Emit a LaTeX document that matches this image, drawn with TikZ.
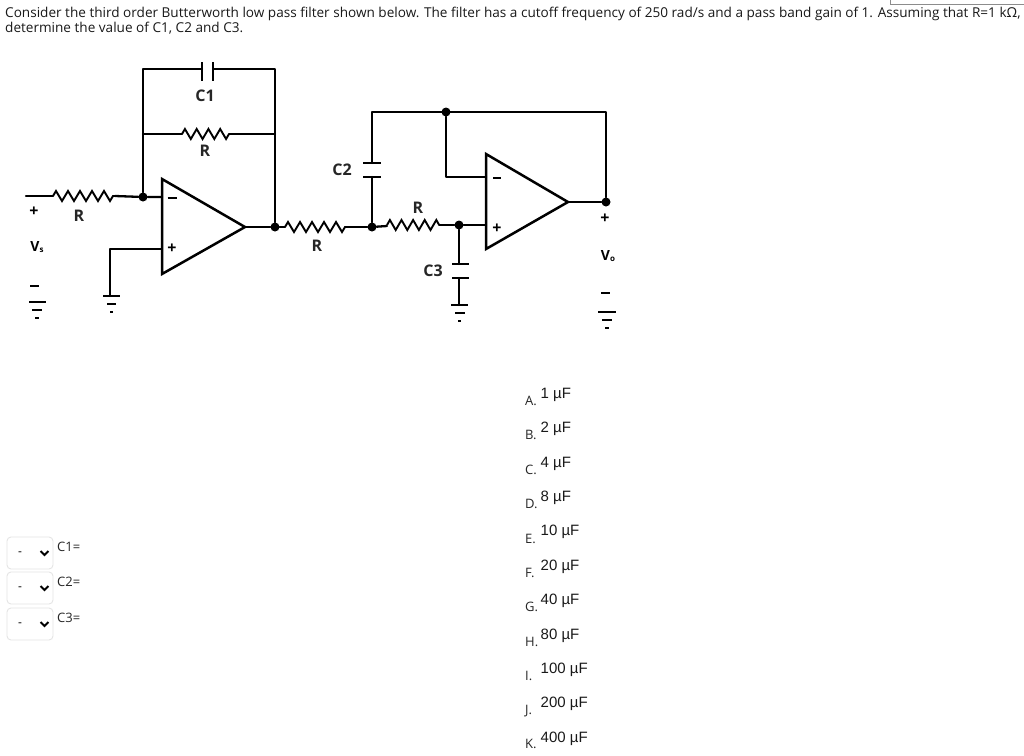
\documentclass[tikz,border=0pt]{standalone}
\usepackage{fontspec}
\setmainfont{Open Sans}
\newfontfamily\arialf{Liberation Sans}
\usetikzlibrary{decorations.pathmorphing}
\newcommand{\fs}[1]{\fontsize{#1}{#1}\selectfont}
\tikzset{
 wire/.style={line width=2.3pt,black,line cap=round,line join=round},
 opamp/.style={line width=2.5pt,black,line join=miter},
 res/.style={line width=1.9pt,black,decorate,decoration={zigzag,segment length=12pt,amplitude=5pt}},
 plate/.style={line width=2.3pt,black},
 dot/.style={circle,fill=black,inner sep=0pt,minimum size=9pt},
 lbl/.style={inner sep=0pt,font=\fs{16}\bfseries,text=black!85},
 sgn/.style={inner sep=0pt,font=\fs{16}\bfseries},
 stem/.style={inner sep=0pt,anchor=base west,font=\fs{13.58},text=black!90},
 opt/.style={inner sep=0pt,anchor=base west,font=\fs{13},text=black!85},
 val/.style={inner sep=0pt,anchor=base west,font=\arialf\fs{15},text=black!90},
 dd/.style={draw=black!10,line width=0.9pt,rounded corners=4pt,fill=white},
 chev/.style={line width=1.8pt,black,line join=miter},
 eq/.style={inner sep=0pt,anchor=base west,font=\fs{13},text=black!85},
}
\begin{document}
\begin{tikzpicture}[x=1pt,y=-1pt]
\useasboundingbox (0,0) rectangle (1024,755);
\fill[white] (0,0) rectangle (1024,755);
% question
\node[stem] (q1) at (5,17) {Consider the third order Butterworth low pass filter shown below. The filter has a cutoff frequency of 250 rad/s and a pass band gain of 1. Assuming that R=1 k\symbol{"03A9},};
\node[stem] (q2) at (5,32) {determine the value of C1, C2 and C3.};
\draw[black!45,line width=0.7pt] (890,0) -- (890,4) -- (1024,4);
% coordinates
\coordinate (in) at (26,196);
\coordinate (r1a) at (53,196); \coordinate (r1b) at (115,196);
\node[dot] (n1) at (143,197) {};
\coordinate (tl) at (143,69); \coordinate (tr) at (275,69);
\coordinate (c1a) at (202,69); \coordinate (c1b) at (213,69);
\coordinate (ml) at (143,134); \coordinate (mr) at (275,134);
\coordinate (rfa) at (182,134); \coordinate (rfb) at (229,134);
\coordinate (a1t) at (162,179); \coordinate (a1b) at (162,274); \coordinate (a1o) at (245,227);
\coordinate (a1m) at (162,197); \coordinate (a1p) at (162,249);
\node[dot] (n2) at (275,227) {};
\coordinate (gl) at (110,249); \coordinate (gl1) at (110,296);
\coordinate (r2a) at (285,227); \coordinate (r2b) at (347,227);
\node[dot] (n3) at (372,227) {};
\coordinate (c2a) at (372,177); \coordinate (c2b) at (372,163);
\coordinate (t2) at (372,112); \coordinate (t3) at (606,112);
\node[dot] (n4) at (446,112) {};
\coordinate (fb) at (446,177); \coordinate (a2m) at (486,177);
\coordinate (a2t) at (486,154); \coordinate (a2b) at (486,249); \coordinate (a2o) at (568,202);
\coordinate (a2p) at (486,225);
\node[dot] (n6) at (606,202) {};
\coordinate (r3a) at (387,225); \coordinate (r3b) at (445,225); \coordinate (n3r) at (372,226);
\node[dot] (n5) at (459,225) {};
\coordinate (c3a) at (459,264); \coordinate (c3b) at (459,278); \coordinate (g3) at (459,305);
% wires
\draw[wire] (in) -- (r1a); \draw[res] (r1a) -- (r1b);
\draw[wire] (r1b) -- (n1) -- (a1m);
\draw[wire] (n1) -- (tl) -- (c1a);
\draw[wire] (c1b) -- (tr) -- (n2);
\draw[wire] (ml) -- (rfa); \draw[res,decoration={zigzag,segment length=11.75pt,amplitude=5pt}] (rfa) -- (rfb); \draw[wire] (rfb) -- (mr);
\draw[plate] (202,62) -- (202,81); \draw[plate] (213,62) -- (213,81);
\draw[opamp] (a1t) -- (a1b) -- (a1o) -- cycle;
\draw[wire] (a1o) -- (n2) -- (r2a); \draw[res] (r2a) -- (r2b);
\draw[wire] (r2b) -- (n3);
\draw[wire] (a1p) -- (gl) -- (gl1);
\draw[wire] (n3) -- (c2a); \draw[wire] (c2b) -- (t2) -- (t3) -- (n6);
\draw[plate] (363,163) -- (381,163); \draw[plate] (363,177) -- (381,177);
\draw[wire] (n4) -- (fb) -- (a2m);
\draw[opamp] (a2t) -- (a2b) -- (a2o) -- cycle;
\draw[wire] (a2o) -- (n6);
\draw[wire] (n3) -- (r3a |- n3r) ; \draw[res,decoration={zigzag,segment length=11.6pt,amplitude=5pt}] (r3a) -- (r3b); \draw[wire] (r3b) -- (n5) -- (a2p);
\draw[wire] (n5) -- (c3a); \draw[wire] (c3b) -- (g3);
\draw[plate] (452,264) -- (469,264); \draw[plate] (452,278) -- (469,278);
% grounds
\draw[plate] (103,296) -- (120,296); \draw[plate] (107,304) -- (116,304); \draw[plate] (110,312) -- (113,312);
\draw[plate] (29,302) -- (46,302); \draw[plate] (32,310) -- (42,310); \draw[plate] (35,318) -- (39,318);
\draw[plate] (451,305) -- (468,305); \draw[plate] (455,313) -- (465,313); \draw[plate] (458,321) -- (461,321);
\draw[plate] (598,312) -- (616,312); \draw[plate] (602,320) -- (612,320); \draw[plate] (605,328) -- (609,328);
% circuit labels
\node[lbl] (lc1) at (205,96) {C1};
\node[lbl] (lr1) at (205,151) {R};
\node[lbl] (lr2) at (79,216) {R};
\node[lbl] (lc2) at (342,170) {C2};
\node[lbl] (lr3) at (418,208) {R};
\node[lbl] (lr4) at (317,246) {R};
\node[lbl] (lc3) at (433,271) {C3};
\node[sgn] (sp) at (34,212) {+};
\node[sgn,font=\fs{14}\bfseries] (svs) at (37,247) {V\raisebox{-1pt}{\fs{8}s}};
\draw[plate,line width=1.4pt] (30,286) -- (39,286);
\node[sgn] (s1m) at (172,198) {\rule{9pt}{1.8pt}};
\node[sgn] (s1p) at (172,249) {+};
\node[sgn] (s2m) at (497,178) {\rule{8pt}{1.8pt}};
\node[sgn] (s2p) at (497,229) {+};
\node[sgn] (op) at (605,219) {+};
\node[sgn,font=\fs{14}\bfseries] (vo) at (608,256) {V\raisebox{-1pt}{\fs{8}o}};
\draw[plate,line width=1.4pt] (601,293) -- (610,293);
% options
\foreach \n/\l/\yl/\v/\yv in {a/A./405/1/398,b/B./439/2/432,c/C./474/4/467,d/D./508/8/501,e/E./543/10/535,f/F./577/20/570,g/G./611/40/604,h/H./646/80/639,i/I./680/100/673,j/J./714/200/707,k/K./748/400/742}{
 \node[opt] (o\n) at (525,\yl) {\l};
 \node[val] (v\n) at (540.5,\yv) {\v\ \symbol{"00B5}F};
}
% dropdowns
\foreach \n/\y/\t in {1/537/C1=,2/572/C2=,3/608/C3=}{
 \draw[dd] (7,\y) rectangle (53,\y+32);
 \node[inner sep=0pt,font=\fs{12}] (d\n) at (20,\y+17) {-};
 \draw[chev] (40.5,\y+14) -- (44.5,\y+18) -- (48.5,\y+14);
 \node[eq] (e\n) at (57,\y+14) {\t};
}
\end{tikzpicture}
\end{document}
